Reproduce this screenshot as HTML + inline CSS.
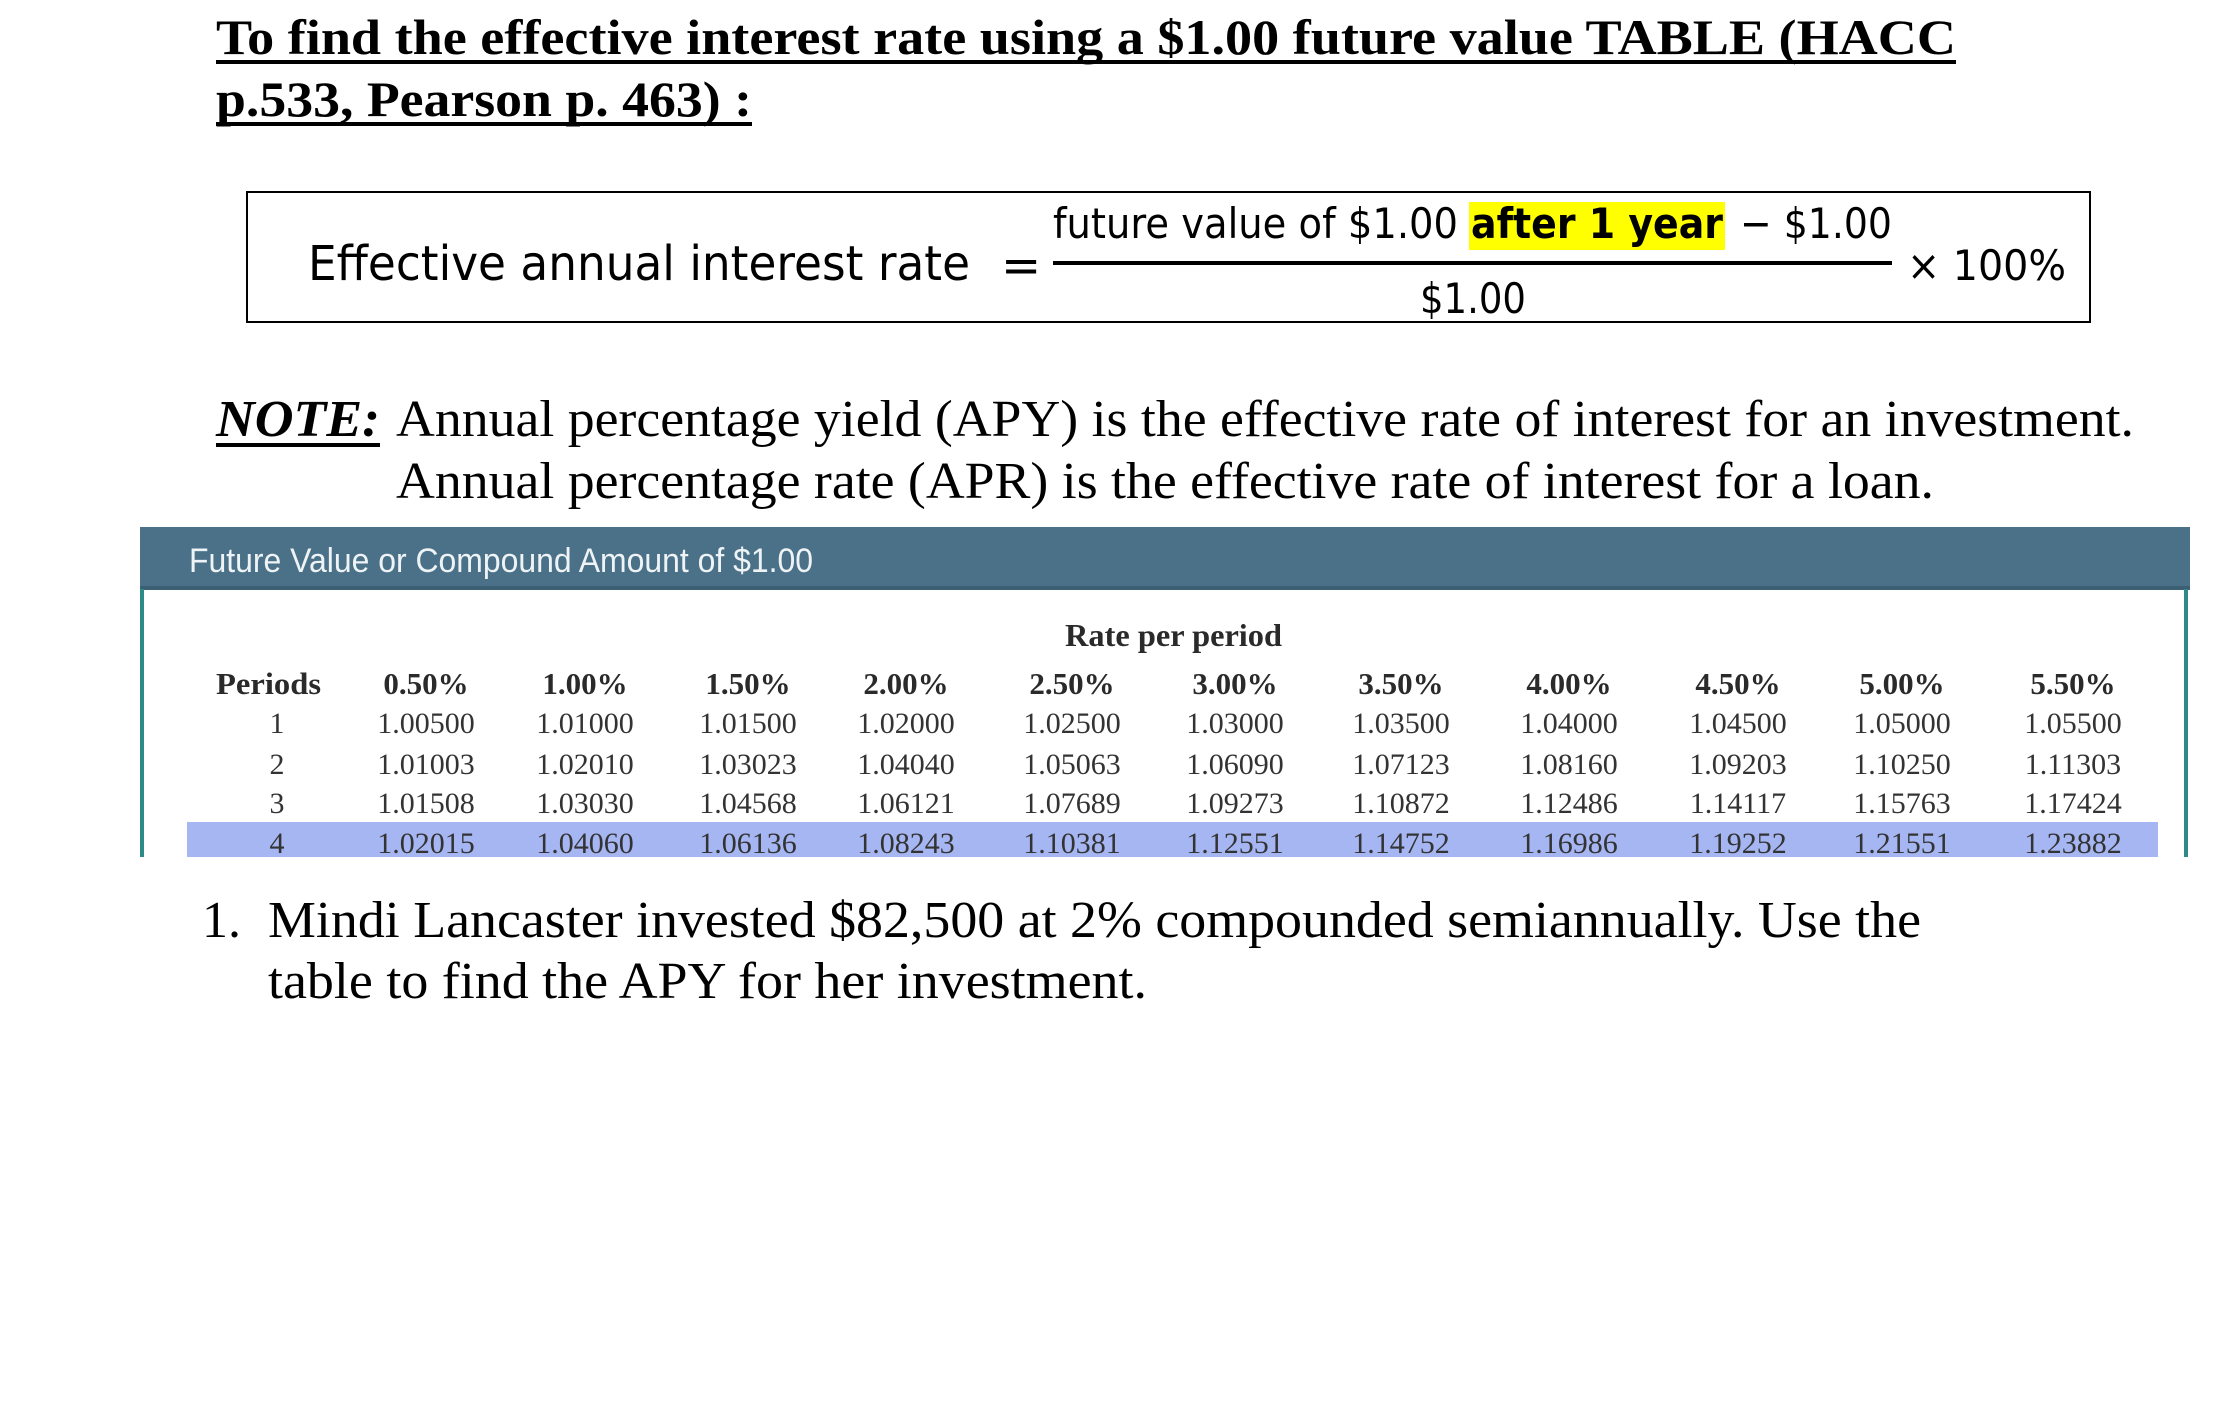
<!DOCTYPE html>
<html><head><meta charset="utf-8"><style>html,body{margin:0;padding:0;background:#fff}svg{display:block}</style></head>
<body>
<svg width="2226" height="1402" viewBox="0 0 2226 1402" xmlns="http://www.w3.org/2000/svg">
<rect width="2226" height="1402" fill="#fff"/>
<g font-family="Liberation Serif, serif" fill="#000">
<text x="216" y="54" font-size="50" font-weight="bold" textLength="1740" lengthAdjust="spacingAndGlyphs">To find the effective interest rate using a $1.00 future value TABLE (HACC</text>
<rect x="216" y="60" width="1740" height="4"/>
<text x="216" y="116" font-size="50" font-weight="bold" textLength="536" lengthAdjust="spacingAndGlyphs">p.533, Pearson p. 463) :</text>
<rect x="216" y="122" width="536" height="4"/>
</g>
<rect x="247" y="192" width="1843" height="130" fill="none" stroke="#000" stroke-width="2"/>
<rect x="1469" y="202" width="256" height="48" fill="#ffff00"/>
<g font-family="DejaVu Sans, Liberation Sans, sans-serif" fill="#000">
<text x="308" y="280" font-size="48" textLength="662" lengthAdjust="spacingAndGlyphs">Effective annual interest rate</text>
<text x="1001" y="282" font-size="48">=</text>
<text x="1053" y="238" font-size="42" textLength="405" lengthAdjust="spacingAndGlyphs">future value of $1.00</text>
<text x="1471" y="238" font-size="42" font-weight="bold" textLength="252" lengthAdjust="spacingAndGlyphs">after 1 year</text>
<text x="1740" y="238" font-size="42" textLength="152" lengthAdjust="spacingAndGlyphs">− $1.00</text>
<rect x="1053" y="261" width="839" height="4"/>
<text x="1420" y="313" font-size="42" textLength="106" lengthAdjust="spacingAndGlyphs">$1.00</text>
<text x="1907" y="280" font-size="42" textLength="159" lengthAdjust="spacingAndGlyphs">× 100%</text>
</g>
<g font-family="Liberation Serif, serif" fill="#000" font-size="52">
<text x="216" y="436" font-weight="bold" font-style="italic" textLength="164" lengthAdjust="spacingAndGlyphs">NOTE:</text>
<rect x="216" y="443" width="164" height="4"/>
<text x="396" y="436" textLength="1738" lengthAdjust="spacingAndGlyphs">Annual percentage yield (APY) is the effective rate of interest for an investment.</text>
<text x="396" y="498" textLength="1538" lengthAdjust="spacingAndGlyphs">Annual percentage rate (APR) is the effective rate of interest for a loan.</text>
</g>
<rect x="140" y="527" width="2050" height="62" fill="#4b7189"/>
<rect x="140" y="586" width="2050" height="4" fill="#3d5f73"/>
<rect x="140" y="589" width="4" height="268" fill="#2e8a86"/>
<rect x="2184" y="589" width="4" height="268" fill="#2e8a86"/>
<text x="189" y="572" font-family="Liberation Sans, sans-serif" font-size="34" fill="#eef3f6" textLength="624" lengthAdjust="spacingAndGlyphs">Future Value or Compound Amount of $1.00</text>
<rect x="187" y="822" width="1971" height="35" fill="#a6b6f2"/>
<g font-family="Liberation Serif, serif" fill="#2a2a2a">
<text x="1065" y="646" font-size="32" font-weight="bold" textLength="217" lengthAdjust="spacingAndGlyphs">Rate per period</text>
<text x="216" y="694" font-size="31" font-weight="bold" textLength="105" lengthAdjust="spacingAndGlyphs">Periods</text>
<g font-size="31" font-weight="bold" text-anchor="middle">
<text x="426" y="694">0.50%</text><text x="585" y="694">1.00%</text><text x="748" y="694">1.50%</text><text x="906" y="694">2.00%</text><text x="1072" y="694">2.50%</text><text x="1235" y="694">3.00%</text><text x="1401" y="694">3.50%</text><text x="1569" y="694">4.00%</text><text x="1738" y="694">4.50%</text><text x="1902" y="694">5.00%</text><text x="2073" y="694">5.50%</text>
</g>
<g font-size="30" text-anchor="middle" fill="#333">
<text x="277" y="733">1</text><text x="277" y="774">2</text><text x="277" y="813">3</text><text x="277" y="853">4</text>
<text x="426" y="733">1.00500</text><text x="585" y="733">1.01000</text><text x="748" y="733">1.01500</text><text x="906" y="733">1.02000</text><text x="1072" y="733">1.02500</text><text x="1235" y="733">1.03000</text><text x="1401" y="733">1.03500</text><text x="1569" y="733">1.04000</text><text x="1738" y="733">1.04500</text><text x="1902" y="733">1.05000</text><text x="2073" y="733">1.05500</text>
<text x="426" y="774">1.01003</text><text x="585" y="774">1.02010</text><text x="748" y="774">1.03023</text><text x="906" y="774">1.04040</text><text x="1072" y="774">1.05063</text><text x="1235" y="774">1.06090</text><text x="1401" y="774">1.07123</text><text x="1569" y="774">1.08160</text><text x="1738" y="774">1.09203</text><text x="1902" y="774">1.10250</text><text x="2073" y="774">1.11303</text>
<text x="426" y="813">1.01508</text><text x="585" y="813">1.03030</text><text x="748" y="813">1.04568</text><text x="906" y="813">1.06121</text><text x="1072" y="813">1.07689</text><text x="1235" y="813">1.09273</text><text x="1401" y="813">1.10872</text><text x="1569" y="813">1.12486</text><text x="1738" y="813">1.14117</text><text x="1902" y="813">1.15763</text><text x="2073" y="813">1.17424</text>
<text x="426" y="853">1.02015</text><text x="585" y="853">1.04060</text><text x="748" y="853">1.06136</text><text x="906" y="853">1.08243</text><text x="1072" y="853">1.10381</text><text x="1235" y="853">1.12551</text><text x="1401" y="853">1.14752</text><text x="1569" y="853">1.16986</text><text x="1738" y="853">1.19252</text><text x="1902" y="853">1.21551</text><text x="2073" y="853">1.23882</text>
</g>
</g>
<g font-family="Liberation Serif, serif" fill="#000" font-size="52">
<text x="202" y="937">1.</text>
<text x="268" y="937" textLength="1653" lengthAdjust="spacingAndGlyphs">Mindi Lancaster invested $82,500 at 2% compounded semiannually. Use the</text>
<text x="268" y="998" textLength="879" lengthAdjust="spacingAndGlyphs">table to find the APY for her investment.</text>
</g>
</svg>
</body></html>
